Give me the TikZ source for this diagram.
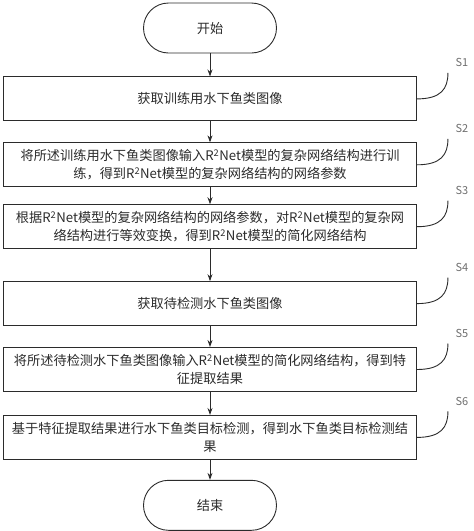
\documentclass[tikz,border=0pt]{standalone}
\usepackage{fontspec}
\usepackage{tikz}
\usetikzlibrary{arrows.meta, positioning, calc}
\newfontfamily\cjk{Noto Sans CJK SC}
\definecolor{flowink}{HTML}{2B2B2B}
\definecolor{flowgray}{HTML}{6E6E6E}
\newcommand{\rnet}{R\textsuperscript{2}Net}

\begin{document}
\begin{tikzpicture}[
        stepbox/.style={draw=flowink, line width=0.9pt, font=\cjk\fontsize{13.2pt}{17.5pt}\selectfont, align=center, text=flowink, minimum width=413pt, minimum height=44pt, inner sep=2pt},
        terminal/.style={draw=flowink, line width=0.9pt, rounded corners=25pt, font=\cjk\fontsize{13.2pt}{17.5pt}\selectfont, text=flowink, minimum width=133pt, minimum height=50pt},
        arrow/.style={-{Stealth[length=7pt, width=5pt]}, line width=0.9pt, flowink},
        callout/.style={line width=0.9pt, flowink},
        steplabel/.style={font=\cjk\fontsize{11pt}{13pt}\selectfont, text=flowgray, inner sep=0pt}
    ]
        \useasboundingbox (0pt,0pt) rectangle (474pt,-531pt);

        \node (start) [terminal] at (210pt,-28pt) {开始};
        \node (s1) [stepbox, below=23pt of start] {获取训练用水下鱼类图像};
        \node (s2) [stepbox, below=21pt of s1] {将所述训练用水下鱼类图像输入\rnet 模型的复杂网络结构进行训\\练，得到\rnet 模型的复杂网络结构的网络参数};
        \node (s3) [stepbox, below=17pt of s2] {根据\rnet 模型的复杂网络结构的网络参数，对\rnet 模型的复杂网\\络结构进行等效变换，得到\rnet 模型的简化网络结构};
        \node (s4) [stepbox, below=32pt of s3] {获取待检测水下鱼类图像};
        \node (s5) [stepbox, below=21pt of s4] {将所述待检测水下鱼类图像输入\rnet 模型的简化网络结构，得到特\\征提取结果};
        \node (s6) [stepbox, below=23pt of s5] {基于特征提取结果进行水下鱼类目标检测，得到水下鱼类目标检测结\\果};
        \node (end) [terminal, below=20pt of s6] {结束};

        \draw [arrow] (start) -- (s1);
        \draw [arrow] (s1) -- (s2);
        \draw [arrow] (s2) -- (s3);
        \draw [arrow] (s3) -- (s4);
        \draw [arrow] (s4) -- (s5);
        \draw [arrow] (s5) -- (s6);
        \draw [arrow] (s6) -- (end);

        % step numbers on the right
        \coordinate (c1) at ($(s1.east)+(31pt,26pt)$);
        \coordinate (c2) at ($(s2.east)+(31pt,26pt)$);
        \coordinate (c3) at ($(s3.east)+(31pt,26pt)$);
        \coordinate (c4) at ($(s4.east)+(31pt,26pt)$);
        \coordinate (c5) at ($(s5.east)+(31pt,26pt)$);
        \coordinate (c6) at ($(s6.east)+(31pt,26pt)$);
        \draw [callout] (s1.east) .. controls +(24pt,0pt) and +(0pt,-16pt) .. (c1);
        \draw [callout] (s2.east) .. controls +(24pt,0pt) and +(0pt,-16pt) .. (c2);
        \draw [callout] (s3.east) .. controls +(24pt,0pt) and +(0pt,-16pt) .. (c3);
        \draw [callout] (s4.east) .. controls +(24pt,0pt) and +(0pt,-16pt) .. (c4);
        \draw [callout] (s5.east) .. controls +(24pt,0pt) and +(0pt,-16pt) .. (c5);
        \draw [callout] (s6.east) .. controls +(24pt,0pt) and +(0pt,-16pt) .. (c6);
        \node (l1) [steplabel] at ($(c1)+(14pt,10pt)$) {S1};
        \node (l2) [steplabel] at ($(c2)+(14pt,10pt)$) {S2};
        \node (l3) [steplabel] at ($(c3)+(14pt,10pt)$) {S3};
        \node (l4) [steplabel] at ($(c4)+(14pt,10pt)$) {S4};
        \node (l5) [steplabel] at ($(c5)+(14pt,10pt)$) {S5};
        \node (l6) [steplabel] at ($(c6)+(14pt,10pt)$) {S6};
    \end{tikzpicture}
\end{document}
